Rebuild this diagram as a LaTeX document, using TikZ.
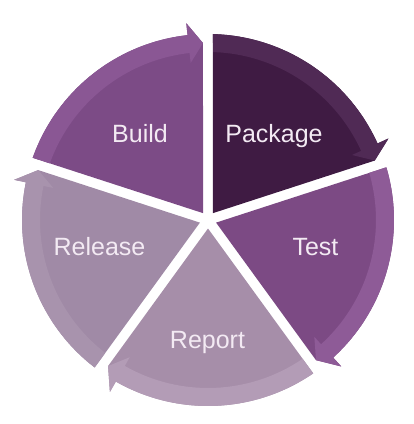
\documentclass[tikz,border=0pt]{standalone}
\usepackage{fontspec}
\setmainfont{Liberation Sans}
\definecolor{buildbody}{HTML}{7C4B86}
\definecolor{buildband}{HTML}{8A5794}
\definecolor{packbody}{HTML}{3F1B43}
\definecolor{packband}{HTML}{502A55}
\definecolor{testbody}{HTML}{7C4A84}
\definecolor{testband}{HTML}{8E5B97}
\definecolor{repbody}{HTML}{A68EA9}
\definecolor{repband}{HTML}{B39CB6}
\definecolor{relbody}{HTML}{A08AA6}
\definecolor{relband}{HTML}{A893AD}
\definecolor{labeltext}{HTML}{F3EAF3}
\newcommand\cycleseg[3]{%
  \pgfmathsetmacro\segE{#1+72}%
  \pgfmathsetmacro\segA{\segE-1.54}%
  \pgfmathsetmacro\segAi{\segE-1.71}%
  \pgfmathsetmacro\segT{#1+1.62}%
  \pgfmathsetmacro\segB{#1+6.3}%
  \pgfmathsetmacro\segM{#1+36}%
  \fill[#2] (\segM:8.5) -- (\segA:186) arc[start angle=\segA, end angle=\segB, radius=186]
     -- (\segB:198) -- (\segT:177) -- cycle;
  \fill[#3] (\segA:186) arc[start angle=\segA, end angle=\segB, radius=186]
     -- (\segB:198) -- (\segT:177) -- (\segB:158) -- (\segB:168)
     arc[start angle=\segB, end angle=\segAi, radius=168] -- cycle;
}
\tikzset{seglabel/.style={text=labeltext, font=\fontsize{25}{29}\selectfont, anchor=base, inner sep=0pt}}
\begin{document}
\begin{tikzpicture}[x=1pt,y=1pt]
\useasboundingbox (-208,-204) rectangle (206,220);
\cycleseg{18}{packbody}{packband}
\cycleseg{90}{buildbody}{buildband}
\cycleseg{162}{relbody}{relband}
\cycleseg{234}{repbody}{repband}
\cycleseg{-54}{testbody}{testband}
\node[seglabel] (build) at (-68,78) {Build};
\node[seglabel] (package) at (66,78) {Package};
\node[seglabel] (test) at (107.5,-35) {Test};
\node[seglabel] (release) at (-108.5,-35) {Release};
\node[seglabel] (report) at (-0.5,-128) {Report};
\end{tikzpicture}
\end{document}
